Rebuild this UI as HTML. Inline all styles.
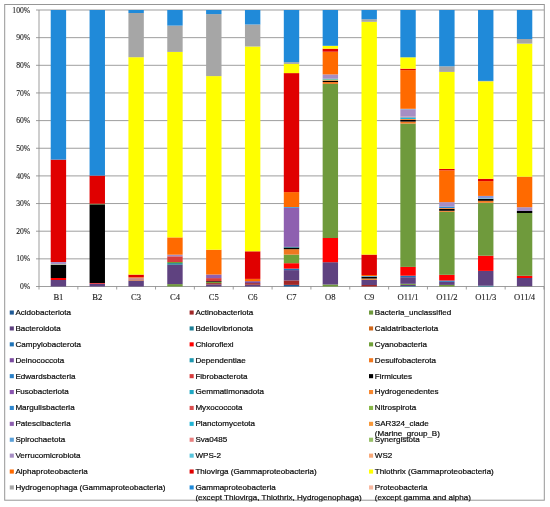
<!DOCTYPE html>
<html lang="en">
<head>
<meta charset="utf-8">
<title>Relative abundance of bacterial phyla</title>
<style>
html,body{margin:0;padding:0;background:#fff;}
body{width:550px;height:507px;overflow:hidden;}
svg{display:block;}
.ax{font-family:"Liberation Serif","Times New Roman",serif;font-size:8.6px;fill:#1c1c1c;stroke:#1c1c1c;stroke-width:0.12px;}
.lg{font-family:"Liberation Sans",Arial,sans-serif;font-size:8.08px;fill:#0a0a0a;stroke:#0a0a0a;stroke-width:0.2px;}
</style>
</head>
<body>
<svg width="550" height="507" viewBox="0 0 550 507">
<rect x="0" y="0" width="550" height="507" fill="#ffffff"/>
<rect x="4.7" y="4.5" width="539.6" height="495.7" fill="#ffffff" stroke="#969696" stroke-width="1"/>
<g stroke="#8c8c8c" stroke-width="0.85" fill="none">
<line x1="36" y1="286.50" x2="544.0" y2="286.50"/>
<line x1="36" y1="258.85" x2="544.0" y2="258.85"/>
<line x1="36" y1="231.20" x2="544.0" y2="231.20"/>
<line x1="36" y1="203.55" x2="544.0" y2="203.55"/>
<line x1="36" y1="175.90" x2="544.0" y2="175.90"/>
<line x1="36" y1="148.25" x2="544.0" y2="148.25"/>
<line x1="36" y1="120.60" x2="544.0" y2="120.60"/>
<line x1="36" y1="92.95" x2="544.0" y2="92.95"/>
<line x1="36" y1="65.30" x2="544.0" y2="65.30"/>
<line x1="36" y1="37.65" x2="544.0" y2="37.65"/>
<line x1="36" y1="10.00" x2="544.0" y2="10.00"/>
<line x1="39.0" y1="10.0" x2="39.0" y2="286.5"/>
<line x1="39.00" y1="286.5" x2="39.00" y2="289.5"/>
<line x1="77.85" y1="286.5" x2="77.85" y2="289.5"/>
<line x1="116.69" y1="286.5" x2="116.69" y2="289.5"/>
<line x1="155.54" y1="286.5" x2="155.54" y2="289.5"/>
<line x1="194.38" y1="286.5" x2="194.38" y2="289.5"/>
<line x1="233.23" y1="286.5" x2="233.23" y2="289.5"/>
<line x1="272.08" y1="286.5" x2="272.08" y2="289.5"/>
<line x1="310.92" y1="286.5" x2="310.92" y2="289.5"/>
<line x1="349.77" y1="286.5" x2="349.77" y2="289.5"/>
<line x1="388.62" y1="286.5" x2="388.62" y2="289.5"/>
<line x1="427.46" y1="286.5" x2="427.46" y2="289.5"/>
<line x1="466.31" y1="286.5" x2="466.31" y2="289.5"/>
<line x1="505.15" y1="286.5" x2="505.15" y2="289.5"/>
<line x1="544.00" y1="286.5" x2="544.00" y2="289.5"/>
</g>
<g shape-rendering="auto">
<rect x="50.72" y="280.00" width="15.40" height="6.50" fill="#5F4280"/>
<rect x="50.72" y="278.00" width="15.40" height="2.00" fill="#FF0000"/>
<rect x="50.72" y="265.00" width="15.40" height="13.00" fill="#000000"/>
<rect x="50.72" y="264.40" width="15.40" height="0.60" fill="#88B848"/>
<rect x="50.72" y="262.00" width="15.40" height="2.40" fill="#A68EC4"/>
<rect x="50.72" y="159.60" width="15.40" height="102.40" fill="#E00000"/>
<rect x="50.72" y="10.00" width="15.40" height="149.60" fill="#208AD9"/>
<rect x="89.57" y="283.60" width="15.40" height="2.90" fill="#5F4280"/>
<rect x="89.57" y="283.00" width="15.40" height="0.60" fill="#FF0000"/>
<rect x="89.57" y="204.30" width="15.40" height="78.70" fill="#000000"/>
<rect x="89.57" y="203.70" width="15.40" height="0.60" fill="#88B848"/>
<rect x="89.57" y="175.60" width="15.40" height="28.10" fill="#E00000"/>
<rect x="89.57" y="10.00" width="15.40" height="165.60" fill="#208AD9"/>
<rect x="128.42" y="280.50" width="15.40" height="6.00" fill="#5F4280"/>
<rect x="128.42" y="279.40" width="15.40" height="1.10" fill="#F07820"/>
<rect x="128.42" y="278.40" width="15.40" height="1.00" fill="#8A55B0"/>
<rect x="128.42" y="277.30" width="15.40" height="1.10" fill="#F88830"/>
<rect x="128.42" y="274.60" width="15.40" height="2.70" fill="#E00000"/>
<rect x="128.42" y="57.20" width="15.40" height="217.40" fill="#FFFF00"/>
<rect x="128.42" y="13.00" width="15.40" height="44.20" fill="#A6A6A6"/>
<rect x="128.42" y="10.00" width="15.40" height="3.00" fill="#208AD9"/>
<rect x="167.26" y="284.10" width="15.40" height="2.40" fill="#6F9A3C"/>
<rect x="167.26" y="264.70" width="15.40" height="19.40" fill="#5F4280"/>
<rect x="167.26" y="263.10" width="15.40" height="1.60" fill="#1F8098"/>
<rect x="167.26" y="262.00" width="15.40" height="1.10" fill="#70A038"/>
<rect x="167.26" y="256.30" width="15.40" height="5.70" fill="#D83C3C"/>
<rect x="167.26" y="254.70" width="15.40" height="1.60" fill="#A68EC4"/>
<rect x="167.26" y="237.40" width="15.40" height="17.30" fill="#FF6A00"/>
<rect x="167.26" y="51.90" width="15.40" height="185.50" fill="#FFFF00"/>
<rect x="167.26" y="25.60" width="15.40" height="26.30" fill="#A6A6A6"/>
<rect x="167.26" y="10.00" width="15.40" height="15.60" fill="#208AD9"/>
<rect x="206.11" y="284.40" width="15.40" height="2.10" fill="#5F4280"/>
<rect x="206.11" y="283.10" width="15.40" height="1.30" fill="#A02828"/>
<rect x="206.11" y="282.00" width="15.40" height="1.10" fill="#70A038"/>
<rect x="206.11" y="281.20" width="15.40" height="0.80" fill="#000000"/>
<rect x="206.11" y="278.10" width="15.40" height="3.10" fill="#D83C3C"/>
<rect x="206.11" y="274.50" width="15.40" height="3.60" fill="#8E60B0"/>
<rect x="206.11" y="249.70" width="15.40" height="24.80" fill="#FF6A00"/>
<rect x="206.11" y="76.10" width="15.40" height="173.60" fill="#FFFF00"/>
<rect x="206.11" y="14.10" width="15.40" height="62.00" fill="#A6A6A6"/>
<rect x="206.11" y="10.00" width="15.40" height="4.10" fill="#208AD9"/>
<rect x="244.95" y="284.70" width="15.40" height="1.80" fill="#5F4280"/>
<rect x="244.95" y="283.10" width="15.40" height="1.60" fill="#A02828"/>
<rect x="244.95" y="281.20" width="15.40" height="1.90" fill="#7B4BA0"/>
<rect x="244.95" y="278.90" width="15.40" height="2.30" fill="#FF6A00"/>
<rect x="244.95" y="251.30" width="15.40" height="27.60" fill="#E00000"/>
<rect x="244.95" y="46.50" width="15.40" height="204.80" fill="#FFFF00"/>
<rect x="244.95" y="24.50" width="15.40" height="22.00" fill="#A6A6A6"/>
<rect x="244.95" y="10.00" width="15.40" height="14.50" fill="#208AD9"/>
<rect x="283.80" y="284.90" width="15.40" height="1.60" fill="#1F5A96"/>
<rect x="283.80" y="280.40" width="15.40" height="4.50" fill="#A02828"/>
<rect x="283.80" y="270.10" width="15.40" height="10.30" fill="#5F4280"/>
<rect x="283.80" y="268.60" width="15.40" height="1.50" fill="#1F73B7"/>
<rect x="283.80" y="263.20" width="15.40" height="5.40" fill="#FF0000"/>
<rect x="283.80" y="254.60" width="15.40" height="8.60" fill="#70A038"/>
<rect x="283.80" y="249.20" width="15.40" height="5.40" fill="#F07820"/>
<rect x="283.80" y="247.70" width="15.40" height="1.50" fill="#000000"/>
<rect x="283.80" y="246.90" width="15.40" height="0.80" fill="#1F8098"/>
<rect x="283.80" y="208.00" width="15.40" height="38.90" fill="#8E60B0"/>
<rect x="283.80" y="207.00" width="15.40" height="1.00" fill="#5BA0D8"/>
<rect x="283.80" y="192.10" width="15.40" height="14.90" fill="#FF6A00"/>
<rect x="283.80" y="73.10" width="15.40" height="119.00" fill="#E00000"/>
<rect x="283.80" y="63.90" width="15.40" height="9.20" fill="#FFFF00"/>
<rect x="283.80" y="62.20" width="15.40" height="1.70" fill="#A6A6A6"/>
<rect x="283.80" y="10.00" width="15.40" height="52.20" fill="#208AD9"/>
<rect x="322.65" y="284.50" width="15.40" height="2.00" fill="#6F9A3C"/>
<rect x="322.65" y="262.20" width="15.40" height="22.30" fill="#5F4280"/>
<rect x="322.65" y="238.00" width="15.40" height="24.20" fill="#FF0000"/>
<rect x="322.65" y="83.90" width="15.40" height="154.10" fill="#6F9A3C"/>
<rect x="322.65" y="82.00" width="15.40" height="1.90" fill="#F07820"/>
<rect x="322.65" y="80.80" width="15.40" height="1.20" fill="#000000"/>
<rect x="322.65" y="80.20" width="15.40" height="0.60" fill="#F88830"/>
<rect x="322.65" y="79.40" width="15.40" height="0.80" fill="#88B848"/>
<rect x="322.65" y="78.70" width="15.40" height="0.70" fill="#22B4D4"/>
<rect x="322.65" y="74.40" width="15.40" height="4.30" fill="#A68EC4"/>
<rect x="322.65" y="51.70" width="15.40" height="22.70" fill="#FF6A00"/>
<rect x="322.65" y="48.70" width="15.40" height="3.00" fill="#E00000"/>
<rect x="322.65" y="45.80" width="15.40" height="2.90" fill="#FFFF00"/>
<rect x="322.65" y="10.00" width="15.40" height="35.80" fill="#208AD9"/>
<rect x="361.49" y="285.00" width="15.40" height="1.50" fill="#A02828"/>
<rect x="361.49" y="279.80" width="15.40" height="5.20" fill="#5F4280"/>
<rect x="361.49" y="278.50" width="15.40" height="1.30" fill="#F07820"/>
<rect x="361.49" y="276.70" width="15.40" height="1.80" fill="#000000"/>
<rect x="361.49" y="276.00" width="15.40" height="0.70" fill="#5BA0D8"/>
<rect x="361.49" y="275.00" width="15.40" height="1.00" fill="#FF6A00"/>
<rect x="361.49" y="254.60" width="15.40" height="20.40" fill="#E00000"/>
<rect x="361.49" y="21.80" width="15.40" height="232.80" fill="#FFFF00"/>
<rect x="361.49" y="19.20" width="15.40" height="2.60" fill="#A6A6A6"/>
<rect x="361.49" y="10.00" width="15.40" height="9.20" fill="#208AD9"/>
<rect x="400.34" y="286.00" width="15.40" height="0.50" fill="#1F8098"/>
<rect x="400.34" y="284.90" width="15.40" height="1.10" fill="#5F4280"/>
<rect x="400.34" y="283.80" width="15.40" height="1.10" fill="#6F9A3C"/>
<rect x="400.34" y="277.20" width="15.40" height="6.60" fill="#5F4280"/>
<rect x="400.34" y="275.70" width="15.40" height="1.50" fill="#1F73B7"/>
<rect x="400.34" y="266.90" width="15.40" height="8.80" fill="#FF0000"/>
<rect x="400.34" y="123.60" width="15.40" height="143.30" fill="#6F9A3C"/>
<rect x="400.34" y="121.60" width="15.40" height="2.00" fill="#F07820"/>
<rect x="400.34" y="119.90" width="15.40" height="1.70" fill="#000000"/>
<rect x="400.34" y="119.00" width="15.40" height="0.90" fill="#F88830"/>
<rect x="400.34" y="117.30" width="15.40" height="1.70" fill="#22B4D4"/>
<rect x="400.34" y="116.60" width="15.40" height="0.70" fill="#E88080"/>
<rect x="400.34" y="109.30" width="15.40" height="7.30" fill="#A68EC4"/>
<rect x="400.34" y="108.80" width="15.40" height="0.50" fill="#5BA0D8"/>
<rect x="400.34" y="70.10" width="15.40" height="38.70" fill="#FF6A00"/>
<rect x="400.34" y="68.70" width="15.40" height="1.40" fill="#E00000"/>
<rect x="400.34" y="57.30" width="15.40" height="11.40" fill="#FFFF00"/>
<rect x="400.34" y="10.00" width="15.40" height="47.30" fill="#208AD9"/>
<rect x="439.18" y="284.90" width="15.40" height="1.60" fill="#6F9A3C"/>
<rect x="439.18" y="281.80" width="15.40" height="3.10" fill="#5F4280"/>
<rect x="439.18" y="280.50" width="15.40" height="1.30" fill="#1F73B7"/>
<rect x="439.18" y="274.80" width="15.40" height="5.70" fill="#FF0000"/>
<rect x="439.18" y="211.80" width="15.40" height="63.00" fill="#6F9A3C"/>
<rect x="439.18" y="210.80" width="15.40" height="1.00" fill="#F07820"/>
<rect x="439.18" y="208.80" width="15.40" height="2.00" fill="#000000"/>
<rect x="439.18" y="208.00" width="15.40" height="0.80" fill="#F88830"/>
<rect x="439.18" y="206.50" width="15.40" height="1.50" fill="#2F88D0"/>
<rect x="439.18" y="202.10" width="15.40" height="4.40" fill="#A68EC4"/>
<rect x="439.18" y="170.30" width="15.40" height="31.80" fill="#FF6A00"/>
<rect x="439.18" y="168.90" width="15.40" height="1.40" fill="#E00000"/>
<rect x="439.18" y="71.90" width="15.40" height="97.00" fill="#FFFF00"/>
<rect x="439.18" y="66.30" width="15.40" height="5.60" fill="#A6A6A6"/>
<rect x="439.18" y="10.00" width="15.40" height="56.30" fill="#208AD9"/>
<rect x="478.03" y="285.70" width="15.40" height="0.80" fill="#1F8098"/>
<rect x="478.03" y="270.90" width="15.40" height="14.80" fill="#5F4280"/>
<rect x="478.03" y="255.70" width="15.40" height="15.20" fill="#FF0000"/>
<rect x="478.03" y="202.80" width="15.40" height="52.90" fill="#6F9A3C"/>
<rect x="478.03" y="200.80" width="15.40" height="2.00" fill="#F07820"/>
<rect x="478.03" y="198.80" width="15.40" height="2.00" fill="#000000"/>
<rect x="478.03" y="198.20" width="15.40" height="0.60" fill="#58C4DC"/>
<rect x="478.03" y="195.90" width="15.40" height="2.30" fill="#8898D8"/>
<rect x="478.03" y="181.10" width="15.40" height="14.80" fill="#FF6A00"/>
<rect x="478.03" y="178.80" width="15.40" height="2.30" fill="#E00000"/>
<rect x="478.03" y="81.30" width="15.40" height="97.50" fill="#FFFF00"/>
<rect x="478.03" y="80.90" width="15.40" height="0.40" fill="#A6A6A6"/>
<rect x="478.03" y="10.00" width="15.40" height="70.90" fill="#208AD9"/>
<rect x="516.88" y="286.30" width="15.40" height="0.20" fill="#6F9A3C"/>
<rect x="516.88" y="278.00" width="15.40" height="8.30" fill="#5F4280"/>
<rect x="516.88" y="275.80" width="15.40" height="2.20" fill="#FF0000"/>
<rect x="516.88" y="213.00" width="15.40" height="62.80" fill="#6F9A3C"/>
<rect x="516.88" y="211.00" width="15.40" height="2.00" fill="#000000"/>
<rect x="516.88" y="207.20" width="15.40" height="3.80" fill="#A68EC4"/>
<rect x="516.88" y="176.70" width="15.40" height="30.50" fill="#FF6A00"/>
<rect x="516.88" y="43.60" width="15.40" height="133.10" fill="#FFFF00"/>
<rect x="516.88" y="39.00" width="15.40" height="4.60" fill="#A6A6A6"/>
<rect x="516.88" y="10.00" width="15.40" height="29.00" fill="#208AD9"/>
</g>
<g class="ax" text-anchor="end">
<text x="30.2" y="289.10" textLength="10.20" lengthAdjust="spacingAndGlyphs">0%</text>
<text x="30.2" y="261.45" textLength="14.03" lengthAdjust="spacingAndGlyphs">10%</text>
<text x="30.2" y="233.80" textLength="14.03" lengthAdjust="spacingAndGlyphs">20%</text>
<text x="30.2" y="206.15" textLength="14.03" lengthAdjust="spacingAndGlyphs">30%</text>
<text x="30.2" y="178.50" textLength="14.03" lengthAdjust="spacingAndGlyphs">40%</text>
<text x="30.2" y="150.85" textLength="14.03" lengthAdjust="spacingAndGlyphs">50%</text>
<text x="30.2" y="123.20" textLength="14.03" lengthAdjust="spacingAndGlyphs">60%</text>
<text x="30.2" y="95.55" textLength="14.03" lengthAdjust="spacingAndGlyphs">70%</text>
<text x="30.2" y="67.90" textLength="14.03" lengthAdjust="spacingAndGlyphs">80%</text>
<text x="30.2" y="40.25" textLength="14.03" lengthAdjust="spacingAndGlyphs">90%</text>
<text x="30.2" y="12.60" textLength="17.85" lengthAdjust="spacingAndGlyphs">100%</text>
</g>
<g class="ax" text-anchor="middle">
<text x="58.42" y="300.4">B1</text>
<text x="97.27" y="300.4">B2</text>
<text x="136.12" y="300.4">C3</text>
<text x="174.96" y="300.4">C4</text>
<text x="213.81" y="300.4">C5</text>
<text x="252.65" y="300.4">C6</text>
<text x="291.50" y="300.4">C7</text>
<text x="330.35" y="300.4">O8</text>
<text x="369.19" y="300.4">C9</text>
<text x="408.04" y="300.4">O11/1</text>
<text x="446.88" y="300.4">O11/2</text>
<text x="485.73" y="300.4">O11/3</text>
<text x="524.58" y="300.4">O11/4</text>
</g>
<clipPath id="lc"><rect x="5.5" y="304" width="538.5" height="197.6"/></clipPath>
<g clip-path="url(#lc)">
<rect x="9.75" y="310.50" width="4.1" height="4.1" fill="#1F5A96"/>
<rect x="189.60" y="310.50" width="4.1" height="4.1" fill="#A02828"/>
<rect x="369.00" y="310.50" width="4.1" height="4.1" fill="#6F9A3C"/>
<rect x="9.75" y="326.40" width="4.1" height="4.1" fill="#5F4280"/>
<rect x="189.60" y="326.40" width="4.1" height="4.1" fill="#1F8098"/>
<rect x="369.00" y="326.40" width="4.1" height="4.1" fill="#D0681C"/>
<rect x="9.75" y="342.30" width="4.1" height="4.1" fill="#1F73B7"/>
<rect x="189.60" y="342.30" width="4.1" height="4.1" fill="#FF0000"/>
<rect x="369.00" y="342.30" width="4.1" height="4.1" fill="#70A038"/>
<rect x="9.75" y="358.20" width="4.1" height="4.1" fill="#7B4BA0"/>
<rect x="189.60" y="358.20" width="4.1" height="4.1" fill="#1F98B0"/>
<rect x="369.00" y="358.20" width="4.1" height="4.1" fill="#F07820"/>
<rect x="9.75" y="374.10" width="4.1" height="4.1" fill="#2A80C8"/>
<rect x="189.60" y="374.10" width="4.1" height="4.1" fill="#D83C3C"/>
<rect x="369.00" y="374.10" width="4.1" height="4.1" fill="#000000"/>
<rect x="9.75" y="390.00" width="4.1" height="4.1" fill="#8A55B0"/>
<rect x="189.60" y="390.00" width="4.1" height="4.1" fill="#1FA8C4"/>
<rect x="369.00" y="390.00" width="4.1" height="4.1" fill="#F88830"/>
<rect x="9.75" y="405.90" width="4.1" height="4.1" fill="#2F88D0"/>
<rect x="189.60" y="405.90" width="4.1" height="4.1" fill="#DC5050"/>
<rect x="369.00" y="405.90" width="4.1" height="4.1" fill="#88B848"/>
<rect x="9.75" y="421.80" width="4.1" height="4.1" fill="#8E60B0"/>
<rect x="189.60" y="421.80" width="4.1" height="4.1" fill="#22B4D4"/>
<rect x="369.00" y="421.80" width="4.1" height="4.1" fill="#F89838"/>
<rect x="9.75" y="437.70" width="4.1" height="4.1" fill="#5BA0D8"/>
<rect x="189.60" y="437.70" width="4.1" height="4.1" fill="#E88080"/>
<rect x="369.00" y="437.70" width="4.1" height="4.1" fill="#98C068"/>
<rect x="9.75" y="453.60" width="4.1" height="4.1" fill="#A68EC4"/>
<rect x="189.60" y="453.60" width="4.1" height="4.1" fill="#58C4DC"/>
<rect x="369.00" y="453.60" width="4.1" height="4.1" fill="#F8A878"/>
<rect x="9.75" y="469.50" width="4.1" height="4.1" fill="#FF6A00"/>
<rect x="189.60" y="469.50" width="4.1" height="4.1" fill="#E00000"/>
<rect x="369.00" y="469.50" width="4.1" height="4.1" fill="#FFFF00"/>
<rect x="9.75" y="485.40" width="4.1" height="4.1" fill="#A6A6A6"/>
<rect x="189.60" y="485.40" width="4.1" height="4.1" fill="#208AD9"/>
<rect x="369.00" y="485.40" width="4.1" height="4.1" fill="#F8B8A0"/>
<text class="lg" x="15.40" y="314.95">Acidobacteriota</text>
<text class="lg" x="195.40" y="314.95">Actinobacteriota</text>
<text class="lg" x="374.85" y="314.95">Bacteria_unclassified</text>
<text class="lg" x="15.40" y="330.85">Bacteroidota</text>
<text class="lg" x="195.40" y="330.85">Bdellovibrionota</text>
<text class="lg" x="374.85" y="330.85">Caldatribacteriota</text>
<text class="lg" x="15.40" y="346.75">Campylobacterota</text>
<text class="lg" x="195.40" y="346.75">Chloroflexi</text>
<text class="lg" x="374.85" y="346.75">Cyanobacteria</text>
<text class="lg" x="15.40" y="362.65">Deinococcota</text>
<text class="lg" x="195.40" y="362.65">Dependentiae</text>
<text class="lg" x="374.85" y="362.65">Desulfobacterota</text>
<text class="lg" x="15.40" y="378.55">Edwardsbacteria</text>
<text class="lg" x="195.40" y="378.55">Fibrobacterota</text>
<text class="lg" x="374.85" y="378.55">Firmicutes</text>
<text class="lg" x="15.40" y="394.45">Fusobacteriota</text>
<text class="lg" x="195.40" y="394.45">Gemmatimonadota</text>
<text class="lg" x="374.85" y="394.45">Hydrogenedentes</text>
<text class="lg" x="15.40" y="410.35">Margulisbacteria</text>
<text class="lg" x="195.40" y="410.35">Myxococcota</text>
<text class="lg" x="374.85" y="410.35">Nitrospirota</text>
<text class="lg" x="15.40" y="426.25">Patescibacteria</text>
<text class="lg" x="195.40" y="426.25">Planctomycetota</text>
<text class="lg" x="374.85" y="426.25">SAR324_clade</text>
<text class="lg" x="374.85" y="435.55">(Marine_group_B)</text>
<text class="lg" x="15.40" y="442.15">Spirochaetota</text>
<text class="lg" x="195.40" y="442.15">Sva0485</text>
<text class="lg" x="374.85" y="442.15">Synergistota</text>
<text class="lg" x="15.40" y="458.05">Verrucomicrobiota</text>
<text class="lg" x="195.40" y="458.05">WPS-2</text>
<text class="lg" x="374.85" y="458.05">WS2</text>
<text class="lg" x="15.40" y="473.95">Alphaproteobacteria</text>
<text class="lg" x="195.40" y="473.95">Thiovirga (Gammaproteobacteria)</text>
<text class="lg" x="374.85" y="473.95">Thiothrix (Gammaproteobacteria)</text>
<text class="lg" x="15.40" y="489.85">Hydrogenophaga (Gammaproteobacteria)</text>
<text class="lg" x="195.40" y="489.85">Gammaproteobacteria</text>
<text class="lg" x="195.40" y="499.65">(except Thiovirga, Thiothrix, Hydrogenophaga)</text>
<text class="lg" x="374.85" y="489.85">Proteobacteria</text>
<text class="lg" x="374.85" y="499.65">(except gamma and alpha)</text>
</g>
</svg>
</body>
</html>
